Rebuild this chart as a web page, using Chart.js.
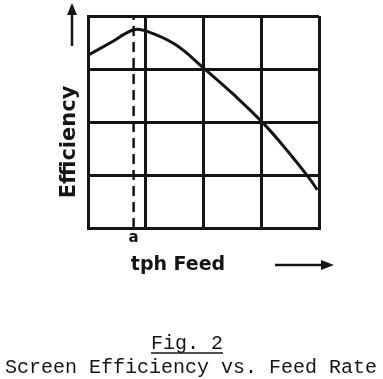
<!DOCTYPE html>
<html>
<head>
<meta charset="utf-8">
<script src="https://cdn.jsdelivr.net/npm/chart.js@4/dist/chart.umd.min.js"></script>
<style>
  html, body { margin: 0; padding: 0; background: #fff; }
  #wrap { position: relative; width: 383px; height: 379px; }
</style>
</head>
<body>
<div id="wrap"><canvas id="fig"></canvas></div>
<script>
// feed rate (grid units) vs efficiency (grid units)
const feedX = [0, 0.38, 0.79, 1.0, 1.5, 2.0, 2.53, 3.05, 3.48, 3.83, 3.97];
const effY = [3.26, 3.49, 3.74, 3.72, 3.47, 3.02, 2.51, 1.96, 1.42, 0.94, 0.72];
const markX = 0.79;   // the "a" feed rate
const markLabel = "a";
const yTitle = "Efficiency";
const xTitle = "tph Feed";
const figNo = "Fig. 2";
const caption = "Screen Efficiency vs. Feed Rate";

const ink = "#151515";

const labelsPlugin = {
  id: "labels",
  afterDraw(chart) {
    const ctx = chart.ctx;
    const area = chart.chartArea;
    const xs = chart.scales.x;
    ctx.save();
    ctx.fillStyle = ink;
    ctx.strokeStyle = ink;

    // "a" under dashed line
    ctx.font = "bold 15px 'DejaVu Sans'";
    ctx.textAlign = "center";
    ctx.textBaseline = "middle";
    ctx.fillText(markLabel, xs.getPixelForValue(markX), area.bottom + 10);

    // y title, rotated
    ctx.save();
    ctx.translate(70, 142);
    ctx.rotate(-Math.PI / 2);
    ctx.font = "bold 21px 'DejaVu Sans'";
    ctx.fillText(yTitle, 0, 0);
    ctx.restore();

    // up arrow
    ctx.lineWidth = 2.5;
    ctx.beginPath();
    ctx.moveTo(72, 46);
    ctx.lineTo(72, 12);
    ctx.stroke();
    ctx.beginPath();
    ctx.moveTo(72, 3);
    ctx.lineTo(67, 15);
    ctx.lineTo(77, 15);
    ctx.closePath();
    ctx.fill();

    // x title
    ctx.font = "bold 19px 'DejaVu Sans'";
    ctx.fillText(xTitle, 178, 265);

    // right arrow
    ctx.beginPath();
    ctx.moveTo(275, 265);
    ctx.lineTo(322, 265);
    ctx.stroke();
    ctx.beginPath();
    ctx.moveTo(334, 265);
    ctx.lineTo(321, 260);
    ctx.lineTo(321, 270);
    ctx.closePath();
    ctx.fill();

    // captions
    ctx.font = "20px 'Liberation Mono'";
    ctx.textBaseline = "alphabetic";
    ctx.fillText(figNo, 187, 349);
    const w = ctx.measureText(figNo).width;
    ctx.lineWidth = 1.5;
    ctx.beginPath();
    ctx.moveTo(187 - w / 2, 353);
    ctx.lineTo(187 + w / 2, 353);
    ctx.stroke();
    ctx.fillText(caption, 191, 373);
    ctx.restore();
  }
};

new Chart(document.getElementById("fig"), {
  type: "line",
  data: {
    datasets: [{
      data: feedX.map((x, i) => ({ x: x, y: effY[i] })),
      borderColor: ink,
      borderWidth: 3,
      pointRadius: 0,
      tension: 0.4,
      fill: false
    }, {
      data: [{ x: markX, y: 0 }, { x: markX, y: 4 }],
      borderColor: ink,
      borderWidth: 2.5,
      borderDash: [10, 6],
      pointRadius: 0,
      fill: false
    }]
  },
  options: {
    responsive: true,
    maintainAspectRatio: false,
    animation: false,
    layout: { padding: { left: 88, top: 16, right: 64, bottom: 151 } },
    plugins: { legend: { display: false }, tooltip: { enabled: false } },
    scales: {
      x: {
        type: "linear", min: 0, max: 4,
        ticks: { display: false, stepSize: 1 },
        grid: { color: ink, lineWidth: 3, drawTicks: false },
        border: { color: ink, width: 3 }
      },
      y: {
        min: 0, max: 4,
        ticks: { display: false, stepSize: 1 },
        grid: { color: ink, lineWidth: 3, drawTicks: false },
        border: { color: ink, width: 3 }
      }
    }
  },
  plugins: [labelsPlugin]
});
</script>
</body>
</html>
